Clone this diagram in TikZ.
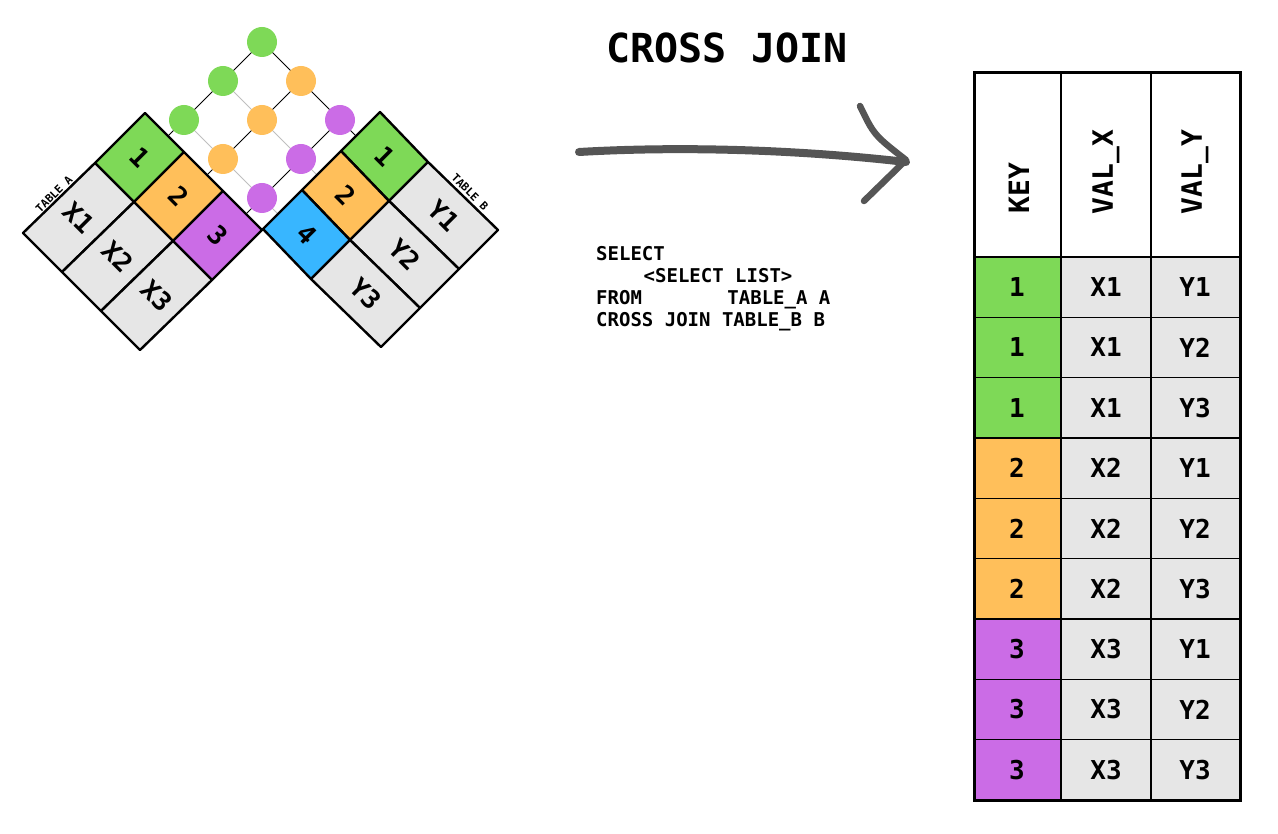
\documentclass[tikz,border=0pt]{standalone}
\usepackage{fontspec}
\setmainfont{DejaVu Sans}
\newfontfamily\mono{DejaVu Sans Mono}
\usetikzlibrary{calc}
\definecolor{cg}{HTML}{7ED957}
\definecolor{co}{HTML}{FFBF5A}
\definecolor{cp}{HTML}{CB6CE6}
\definecolor{cb}{HTML}{38B6FF}
\definecolor{cgr}{HTML}{E6E6E6}
\definecolor{arr}{HTML}{555555}
\begin{document}
\begin{tikzpicture}[x=1pt,y=-1pt,
  cell/.style={draw=black,line width=2.4pt,line join=round},
  lab/.style={font=\mono\bfseries\fontsize{26}{26}\selectfont,inner sep=0pt},
  tl/.style={font=\mono\bfseries\fontsize{11}{11}\selectfont,inner sep=0pt},
  dot/.style={circle,inner sep=0pt,minimum size=30pt},
  rt/.style={font=\mono\bfseries\fontsize{26}{26}\selectfont,inner sep=0pt},
  hd/.style={font=\mono\bfseries\fontsize{28}{28}\selectfont,inner sep=0pt,rotate=90}]
\useasboundingbox (0,0) rectangle (1278,834);
% grid lines
\foreach \i in {1,2,3}{
  \draw[black,line width=1pt] ({262+39*(\i-1)},{42+39*(\i-1)}) -- ({262+39*(\i-3)-50},{42+39*(\i+1)+50});
}
\foreach \j in {2,3}{
  \draw[black!25,line width=1pt] ({262-39*(\j-1)},{42+39*(\j-1)}) -- ({262+39*(3-\j)+50},{42+39*(\j+1)+50});
}
\draw[black,line width=1pt] (262,42) -- ({262+78+50},{42+78+50});
\foreach \i/\c in {1/cg,2/co,3/cp}{
  \foreach \j in {1,2,3}{
    \node[dot,fill=\c] (d\i\j) at ({262+39*(\i-\j)},{42+39*(\i+\j-2)}) {};
  }
}
% table A
\foreach \i/\c/\t/\v in {1/cg/1/X1,2/co/2/X2,3/cp/3/X3}{
  \draw[cell,fill=\c] ({145+39*(\i-1)},{113+39*(\i-1)}) -- ++(39,39) -- ++(-50,50) -- ++(-39,-39) -- cycle;
  \draw[cell,fill=cgr] ({95+39*(\i-1)},{163+39*(\i-1)}) -- ++(39,39) -- ++(-72,70) -- ++(-39,-39) -- cycle;
  \node[lab,rotate=-45] (ak\i) at ({145+39*(\i-0.5)-25},{113+39*(\i-0.5)+25}) {\t};
  \node[lab,rotate=-45] (av\i) at ({95+39*(\i-0.5)-36},{163+39*(\i-0.5)+35}) {\v};
}
\node[tl,rotate=45,anchor=south] (ta) at (57,197) {TABLE A};
% table B
\foreach \i/\c/\t/\v in {1/cg/1/Y1,2/co/2/Y2,3/cb/4/Y3}{
  \draw[cell,fill=\c] ({380-39*(\i-1)},{112+39*(\i-1)}) -- ++(-39,39) -- ++(48,50) -- ++(39,-39) -- cycle;
  \draw[cell,fill=cgr] ({428-39*(\i-1)},{162+39*(\i-1)}) -- ++(-39,39) -- ++(70,68) -- ++(39,-39) -- cycle;
  \node[lab,rotate=-45] (bk\i) at ({380-39*(\i-0.5)+24},{112+39*(\i-0.5)+25}) {\t};
  \node[lab,rotate=-45] (bv\i) at ({428-39*(\i-0.5)+35},{162+39*(\i-0.5)+34}) {\v};
}
\node[tl,rotate=-45,anchor=south] (tb) at (467,195) {TABLE B};
% title
\node[font=\mono\bfseries\fontsize{40}{40}\selectfont,inner sep=0pt] (title) at (727,48) {CROSS JOIN};
% arrow
\draw[arr,line width=8pt,line cap=round] (579,152) .. controls (700,145) and (820,152) .. (906,162);
\draw[arr,line width=6.5pt,line cap=round,line join=round] (860,106) .. controls (874,135) .. (906,160) -- (864,201);
% sql
\node[font=\mono\bfseries\fontsize{19}{22}\selectfont,inner sep=0pt,anchor=north west,align=left] (sql) at (596,246)
 {SELECT\\\hspace*{2.5em}<SELECT LIST>\\FROM\hspace*{4.5em}TABLE\_A A\\CROSS JOIN TABLE\_B B};
% result table
\foreach \r/\k/\c/\x/\y in {0/1/cg/X1/Y1,1/1/cg/X1/Y2,2/1/cg/X1/Y3,3/2/co/X2/Y1,4/2/co/X2/Y2,5/2/co/X2/Y3,6/3/cp/X3/Y1,7/3/cp/X3/Y2,8/3/cp/X3/Y3}{
  \fill[\c] (974,{257+60.33*\r}) rectangle (1061,{257+60.33*(\r+1)});
  \fill[cgr] (1061,{257+60.33*\r}) rectangle (1240,{257+60.33*(\r+1)});
  \node[rt] (k\r) at (1017,{257+60.33*(\r+0.5)}) {\k};
  \node[rt] (x\r) at (1106,{257+60.33*(\r+0.5)}) {\x};
  \node[rt] (y\r) at (1195,{257+60.33*(\r+0.5)}) {\y};
  \draw[line width=1.5pt] (974,{257+60.33*\r}) -- (1240,{257+60.33*\r});
}
\draw[line width=1.5pt] (1061,73) -- (1061,800) (1151,73) -- (1151,800);
\draw[line width=3pt] (974,73) rectangle (1240,800);
\node[hd] (hk) at (1019,188) {KEY};
\node[hd] (hx) at (1106,172) {VAL\_X};
\node[hd] (hy) at (1195,172) {VAL\_Y};
\end{tikzpicture}
\end{document}
